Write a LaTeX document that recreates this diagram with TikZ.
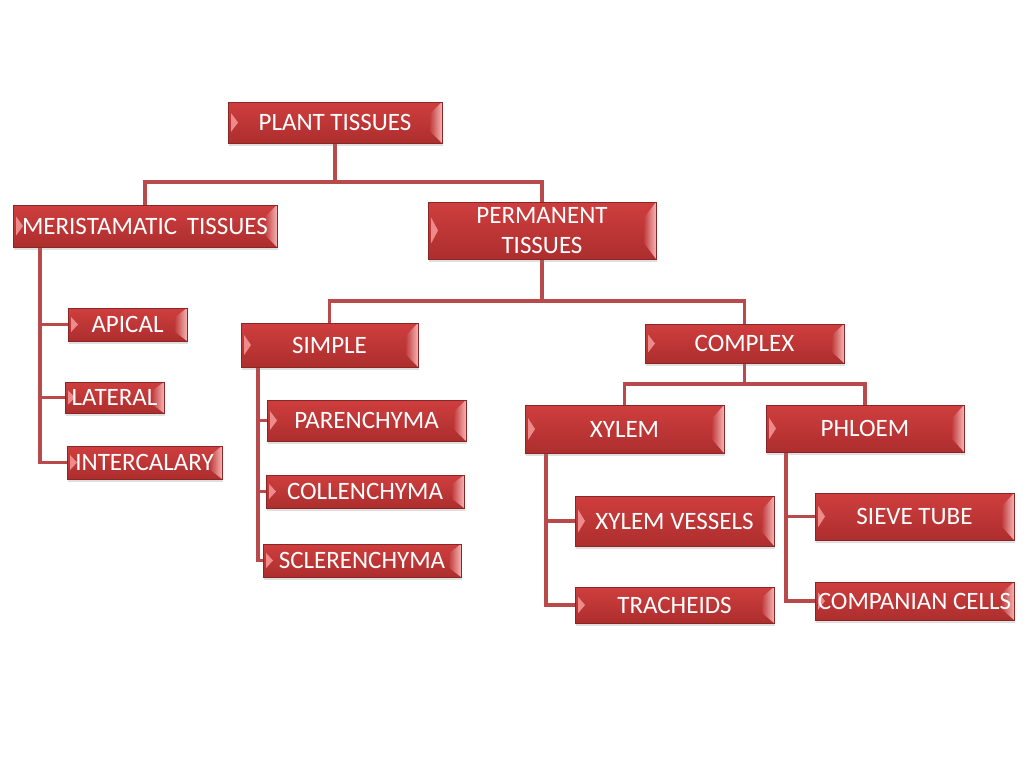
\documentclass[tikz,border=0pt]{standalone}
\usepackage{fontspec}
\setmainfont{Carlito}
\usetikzlibrary{calc,shadows,backgrounds}
\definecolor{boxtop}{HTML}{CF3E3E}
\definecolor{boxbot}{HTML}{AD2E2E}
\definecolor{boxedge}{HTML}{8A2626}
\definecolor{connred}{HTML}{B94A4C}
\definecolor{facetA}{HTML}{C23E3E}
\definecolor{facetB}{HTML}{F6B4B4}
\definecolor{facetL}{HTML}{EE8A8A}
\tikzset{
  conn/.style={draw=connred, line width=3.5pt},
  box/.style={rectangle, draw=boxedge, line width=1pt, top color=boxtop, bottom color=boxbot,
    text=white, font=\fontsize{25}{30}\selectfont, inner sep=0pt, align=center,
    drop shadow={opacity=0.25, shadow xshift=1pt, shadow yshift=-3pt},
    path picture={
      \fill[facetL] let \p1=(path picture bounding box.south west), \p2=(path picture bounding box.north east) in
        (\x1+3pt,{\y1+0.27*(\y2-\y1)}) -- (\x1+10pt,{0.5*(\y1+\y2)}) -- (\x1+3pt,{\y2-0.27*(\y2-\y1)}) -- cycle;
      \shade[left color=facetA, right color=facetB] let \p1=(path picture bounding box.south west), \p2=(path picture bounding box.north east) in
        (\x2,\y2) -- (\x2-12pt,{\y2-0.28*(\y2-\y1)}) -- (\x2-12pt,{\y1+0.28*(\y2-\y1)}) -- (\x2,\y1) -- cycle;
    }},
}
\begin{document}
\begin{tikzpicture}[x=1pt,y=-1pt]
\useasboundingbox (0,0) rectangle (1035,763);
\node[box, minimum width=214pt, minimum height=41pt] (plant) at (335,122.5) {PLANT TISSUES};
\node[box, minimum width=264pt, minimum height=42pt] (mer) at (145,226) {MERISTAMATIC\, TISSUES};
\node[box, minimum width=119pt, minimum height=33pt] (apical) at (127.5,324.5) {APICAL};
\node[box, minimum width=99pt, minimum height=31pt] (lateral) at (114.5,397.5) {LATERAL};
\node[box, minimum width=155pt, minimum height=33pt] (inter) at (144.5,462.5) {INTERCALARY};
\node[box, minimum width=228pt, minimum height=57pt] (perm) at (542,230.5) {PERMANENT\\TISSUES};
\node[box, minimum width=177pt, minimum height=44pt] (simple) at (329.5,345) {SIMPLE};
\node[box, minimum width=199pt, minimum height=41pt] (parench) at (366.5,420.5) {PARENCHYMA};
\node[box, minimum width=198pt, minimum height=33pt] (coll) at (365,491.5) {COLLENCHYMA};
\node[box, minimum width=198pt, minimum height=33pt] (scler) at (362,560.5) {SCLERENCHYMA};
\node[box, minimum width=199pt, minimum height=39pt] (complex) at (744.5,343.5) {COMPLEX};
\node[box, minimum width=199pt, minimum height=48pt] (xylem) at (624.5,429) {XYLEM};
\node[box, minimum width=198pt, minimum height=47pt] (phloem) at (865,428.5) {PHLOEM};
\node[box, minimum width=199pt, minimum height=50pt] (xv) at (674.5,521) {XYLEM VESSELS};
\node[box, minimum width=199pt, minimum height=36pt] (trach) at (674.5,605) {TRACHEIDS};
\node[box, minimum width=199pt, minimum height=47pt] (sieve) at (914.5,516.5) {SIEVE TUBE};
\node[box, minimum width=199pt, minimum height=38pt] (comp) at (914.5,601) {COMPANIAN CELLS};
\begin{pgfonlayer}{background}
\coordinate (j1) at (335,182);
\draw[conn] (plant.south) -- (j1);
\draw[conn] (mer.north) |- (j1) -| (perm.north);
\coordinate (mt) at (40,247);
\draw[conn] (mt) |- (inter.west);
\draw[conn] (mt |- apical.west) -- (apical.west);
\draw[conn] (mt |- lateral.west) -- (lateral.west);
\coordinate (j2) at (542,301);
\draw[conn] (perm.south) -- (j2);
\draw[conn] (simple.north) |- (j2) -| (complex.north);
\coordinate (st) at (258,367);
\draw[conn] (st) |- (scler.west);
\draw[conn] (st |- parench.west) -- (parench.west);
\draw[conn] (st |- coll.west) -- (coll.west);
\coordinate (j3) at (744.5,384);
\draw[conn] (complex.south) -- (j3);
\draw[conn] (xylem.north) |- (j3) -| (phloem.north);
\coordinate (xt) at (546,453);
\draw[conn] (xt) |- (trach.west);
\draw[conn] (xt |- xv.west) -- (xv.west);
\coordinate (pht) at (786,452);
\draw[conn] (pht) |- (comp.west);
\draw[conn] (pht |- sieve.west) -- (sieve.west);
\end{pgfonlayer}
\end{tikzpicture}
\end{document}
